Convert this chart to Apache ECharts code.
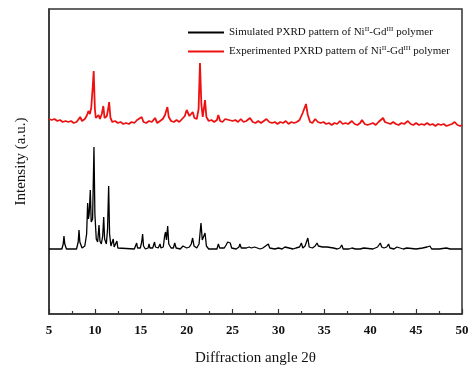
<!DOCTYPE html>
<html><head><meta charset="utf-8">
<script src="https://cdn.jsdelivr.net/npm/echarts@6/dist/echarts.min.js"></script>
<style>html,body{margin:0;padding:0;background:#fff}#c{width:474px;height:373px}</style>
</head><body><div id="c"></div>
<script>
// x tick labels
const xTicks = [5, 10, 15, 20, 25, 30, 35, 40, 45, 50];
const seriesNames = ['Simulated PXRD pattern of Ni{sup|II}-Gd{sup|III} polymer', 'Experimented PXRD pattern of Ni{sup|II}-Gd{sup|III} polymer'];
// Simulated pattern (2θ, intensity offset units)
const simAngle = [5.0,6.4,6.55,6.63,6.72,6.9,8.0,8.18,8.27,8.36,8.6,8.9,9.1,9.21,9.3,9.38,9.5,9.6,9.75,9.9,10.0,10.15,10.3,10.45,10.55,10.7,10.85,10.96,11.06,11.25,11.38,11.5,11.6,11.75,11.9,12.0,12.1,12.25,12.4,12.5,12.7,14.3,14.45,14.55,14.65,14.95,15.1,15.2,15.3,15.5,15.8,15.9,16.0,16.3,16.5,16.6,16.9,17.1,17.2,17.45,17.6,17.7,17.8,17.93,18.05,18.3,18.55,18.7,18.85,19.3,19.6,19.7,20.0,20.3,20.5,20.65,20.8,21.1,21.35,21.56,21.7,21.85,22.0,22.15,22.4,23.3,23.45,23.6,24.1,24.3,24.47,24.6,24.75,24.9,25.4,25.7,25.8,25.95,26.5,26.8,26.9,27.05,27.4,27.6,28.0,28.3,28.5,28.9,29.05,29.6,30.0,30.4,30.7,30.85,31.6,31.9,32.3,32.5,32.65,32.9,33.2,33.35,33.7,34.0,34.2,34.35,34.5,34.8,35.0,35.3,35.5,36.0,36.4,36.7,36.9,37.05,37.7,38.0,38.4,38.9,39.3,39.5,40.3,40.8,41.1,41.25,41.5,41.8,42.0,42.15,42.6,42.9,43.05,43.6,44.0,44.2,45.0,45.7,46.2,46.5,46.7,47.5,48.3,48.7,49.4,50.0];
const simIntensity = [65,65,70,78,70,65,65,72,84,72,66,68,80,111,95,100,124,92,95,167,100,75,72,89,73,70,78,97,75,70,85,128,80,68,69,75,67,66,73,66,65,65,66,71,66,66,72,80,68,65,66,70,66,66,72,67,66,70,66,67,78,82,74,88,70,66,66,71,66,65,68,66,66,67,70,76,68,66,70,91,74,72,81,68,65,65,70,66,66,69,72,70,71,66,65,67,70,66,66,67,69,66,67,66,65,66,65,70,66,65,66,65,67,65,65,66,67,71,66,68,76,67,66,68,71,68,66,67,66,67,65,66,65,66,69,65,65,66,65,65,66,65,65,67,71,67,66,67,70,66,65,67,65,65,66,65,65,66,67,68,65,65,66,65,65,65];
// Experimental pattern
const expAngle = [5.0,5.3,5.6,5.9,6.2,6.5,6.8,7.1,7.4,7.7,8.0,8.2,8.4,8.6,8.9,9.1,9.3,9.45,9.6,9.75,9.87,10.0,10.1,10.25,10.4,10.55,10.75,10.92,11.05,11.3,11.45,11.55,11.7,11.9,12.2,12.5,12.8,13.1,13.4,13.7,14.0,14.3,14.6,14.8,15.1,15.3,15.6,15.9,16.2,16.55,16.8,17.1,17.4,17.64,17.8,17.9,18.05,18.3,18.6,18.9,19.2,19.5,19.8,20.0,20.1,20.3,20.5,20.66,20.85,21.1,21.3,21.45,21.6,21.75,21.9,22.0,22.15,22.4,22.7,23.0,23.3,23.45,23.65,23.9,24.2,24.4,24.6,24.8,25.0,25.3,25.6,25.9,26.2,26.5,26.9,27.2,27.5,27.8,28.1,28.4,28.7,29.0,29.3,29.6,29.9,30.2,30.5,30.8,31.1,31.4,31.7,32.0,32.3,32.64,32.8,33.0,33.2,33.45,33.7,34.0,34.3,34.6,34.9,35.2,35.5,35.8,36.1,36.4,36.7,37.0,37.3,37.6,38.0,38.3,38.6,38.9,39.1,39.4,39.7,40.0,40.3,40.6,40.9,41.1,41.4,41.6,41.9,42.2,42.5,42.8,43.1,43.4,43.7,44.1,44.4,44.7,45.0,45.3,45.6,45.9,46.2,46.5,46.8,47.1,47.4,47.7,48.0,48.3,48.6,48.9,49.2,49.5,49.8,50.0];
const expIntensity = [195,194,195,193,194,192,193,192,193,191,192,194,197,193,195,198,203,200,206,225,243,205,196,195,199,195,200,208,196,198,205,212,196,192,193,191,192,190,191,190,192,191,194,192,197,192,191,193,192,196,191,193,195,199,204,207,197,193,192,194,192,195,198,204,206,198,199,202,196,195,205,251,210,197,207,214,197,193,194,192,194,199,193,192,195,197,194,196,193,194,192,195,192,193,196,192,191,193,191,193,195,192,191,192,190,192,191,193,190,192,191,192,194,201,203,210,199,192,191,195,192,191,192,190,191,189,191,190,193,190,191,190,193,190,189,191,194,190,189,190,191,189,192,193,196,192,191,190,192,190,189,191,190,193,190,189,191,189,190,189,191,189,190,188,190,189,190,188,189,190,192,189,188,189];

const zip = (a, b) => a.map((v, i) => [v, b[i]]);
const serif = '"Liberation Serif", "Times New Roman", serif';
const chart = echarts.init(document.getElementById('c'), null, {renderer: 'canvas'});
chart.setOption({
  animation: false,
  backgroundColor: '#fff',
  grid: {left: 49, right: 12, top: 9, bottom: 59, show: true, borderColor: '#333', borderWidth: 1.5, backgroundColor: 'transparent'},
  legend: {
    orient: 'vertical', left: 183, top: 21, itemGap: 7, itemWidth: 36, itemHeight: 2,
    data: [{name: seriesNames[0], icon: 'rect'}, {name: seriesNames[1], icon: 'rect'}],
    formatter: n => n,
    textStyle: {fontFamily: serif, fontSize: 11, color: '#111', padding: [0, 0, 0, 0],
      rich: {sup: {fontFamily: serif, fontSize: 7, color: '#111', padding: [0, 0, 6, 0]}}}
  },
  xAxis: {
    type: 'value', min: 5, max: 50, interval: 5,
    name: 'Diffraction angle 2θ', nameLocation: 'middle', nameGap: 37,
    nameTextStyle: {fontFamily: serif, fontSize: 15, color: '#111'},
    axisLine: {show: true, lineStyle: {color: '#333', width: 1.5}},
    axisTick: {show: true, inside: true, length: 5, lineStyle: {color: '#333', width: 1.2}},
    minorTick: {show: true, splitNumber: 2, length: 3, lineStyle: {color: '#333', width: 1.2}},
    axisLabel: {fontFamily: serif, fontSize: 13, fontWeight: 'bold', color: '#111', margin: 10,
      formatter: v => xTicks.includes(v) ? String(v) : ''},
    splitLine: {show: false}
  },
  yAxis: {
    type: 'value', min: 0, max: 305,
    name: 'Intensity (a.u.)', nameLocation: 'middle', nameGap: 20,
    nameTextStyle: {fontFamily: serif, fontSize: 15, color: '#111'},
    axisLine: {show: true, lineStyle: {color: '#333', width: 1.5}},
    axisTick: {show: false}, axisLabel: {show: false}, splitLine: {show: false}
  },
  series: [
    {name: seriesNames[0], type: 'line', data: zip(simAngle, simIntensity), showSymbol: false,
     color: '#000', lineStyle: {color: '#000', width: 1.3}},
    {name: seriesNames[1], type: 'line', data: zip(expAngle, expIntensity), showSymbol: false,
     color: '#ee1111', lineStyle: {color: '#ee1111', width: 1.8}}
  ]
});
</script></body></html>
